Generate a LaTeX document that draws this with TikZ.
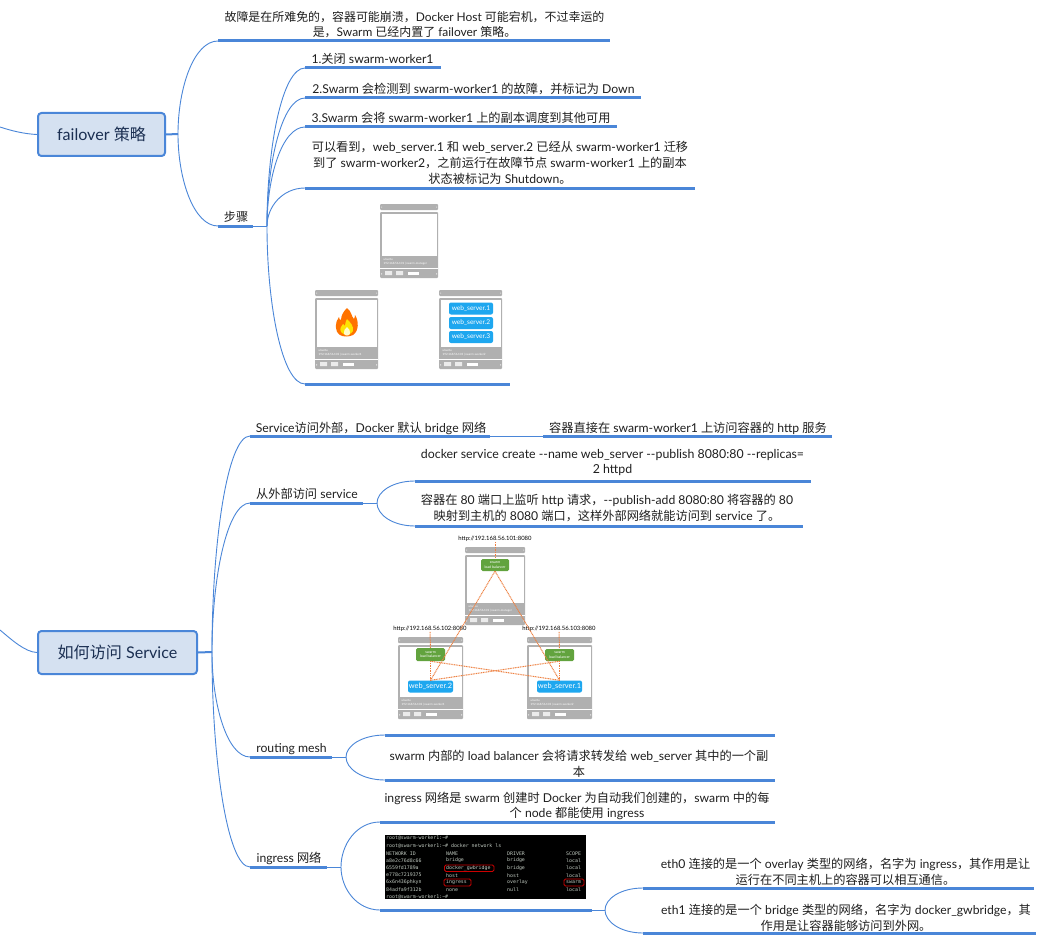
\documentclass[tikz,border=0pt]{standalone}
\usepackage{fontspec}
\setmainfont{Lato}
\newfontfamily\cjk{Noto Sans CJK SC}
\newfontfamily\termfont{DejaVu Sans Mono}
\newcommand\zh[1]{{\cjk #1}}
\usetikzlibrary{calc}
\definecolor{mblue}{HTML}{4A86D8}
\definecolor{mfill}{HTML}{D5E1F1}
\definecolor{navy}{HTML}{1B2F52}
\definecolor{wgray}{HTML}{B0B0B0}
\definecolor{sblue}{HTML}{1EA7EF}
\definecolor{lbgreen}{HTML}{62A33E}
\definecolor{dotor}{HTML}{EE8040}
\definecolor{term}{HTML}{BFC8BF}
\tikzset{
  conn/.style={draw=mblue,line width=0.9pt},
  bar/.style={draw=mblue,line width=3pt},
  stub/.style={draw=mblue,line width=2pt},
  topic/.style={draw=mblue,fill=mfill,line width=2pt,rounded corners=3.5pt,text=navy,font=\fontsize{16.1}{20}\selectfont,inner sep=0pt,anchor=center},
  lab/.style={text=black!88,font=\fontsize{12.2}{15.8}\selectfont,align=center,inner sep=0pt,anchor=center},
  btn/.style={fill=sblue,rounded corners=2pt,text=white,inner sep=0pt,anchor=center},
  lb/.style={fill=lbgreen,rounded corners=1.5pt,text=white,font=\fontsize{3.6}{4.4}\selectfont,align=center,inner sep=0pt,anchor=center},
  url/.style={text=black,font=\fontsize{5.9}{7}\selectfont,inner sep=0pt,anchor=center},
  tiny/.style={text=white,font=\fontsize{2.9}{4}\selectfont,align=left,anchor=west,inner sep=0pt},
  dots/.style={draw=dotor,line width=1pt,dash pattern=on 1pt off 0.7pt},
  tt/.style={text=term,font=\termfont\fontsize{4.9}{5}\selectfont,anchor=west,inner sep=0pt},
  redbox/.style={draw=red!80!black,line width=0.9pt,rounded corners=1.5pt},
}
% branch curve: leaves #1 vertically, reaches #2 horizontally
\newcommand\branch[2]{\draw[conn] (#1) .. controls ($(#1)!0.5!(#1|-#2)$) and ($(#1|-#2)!0.4!(#2)$) .. (#2);}
% mini window: x, y, w, h, name, ip text
\newcommand\miniwin[6]{%
  \begin{scope}[shift={(#1,#2)}]
    \fill[wgray,rounded corners=1pt] (0,0) rectangle (#3,6);
    \fill[wgray,rounded corners=1pt] (0,8) rectangle (#3,#4);
    \fill[white] (1.5,9.5) rectangle (#3-1.5,#4-22);
    \fill[white] (0,#4-9.7) rectangle (#3,#4-9);
    \fill[white!85!black] (1,2.5) rectangle (2,3.5) (#3-2,2.5) rectangle (#3-1,3.5);
    \fill[white!85!black] (1,#4-5) rectangle (2,#4-3.5) (#3-2,#4-5) rectangle (#3-1,#4-3.5);
    \fill[white!75!wgray] (5,#4-7) rectangle (12,#4-3) (16,#4-7) rectangle (23,#4-3);
    \fill[white] (28,#4-6.5) rectangle (39,#4-3);
    \node[tiny] (#5) at (3.5,#4-16) {ubuntu\\#6};
  \end{scope}}
\begin{document}
\begin{tikzpicture}[x=1pt,y=-1pt]
\useasboundingbox (0,0) rectangle (1055,947);
\fill[white] (0,0) rectangle (1055,947);

% ---------- failover ----------
\coordinate (f0) at (0,127);
\coordinate (fs) at (178,134);
\coordinate (t1a) at (218,41);   \coordinate (t1b) at (610,41);
\coordinate (t2a) at (218,226);  \coordinate (t2c) at (253,226); \coordinate (t2b) at (267,226);
\coordinate (s1a) at (305,68);   \coordinate (s1b) at (441,68);
\coordinate (s2a) at (305,98);   \coordinate (s2b) at (641,98);
\coordinate (s3a) at (305,127);  \coordinate (s3b) at (617,127);
\coordinate (s4a) at (305,188);  \coordinate (s4b) at (695,188);
\coordinate (s5a) at (305,384);  \coordinate (s5b) at (510,384);

\node[topic,minimum width=127pt,minimum height=43pt] (failover) at (101.5,134.5) {failover \zh{策略}};
\draw[conn] (f0) .. controls (12,131) and (25,134) .. (failover.west);
\draw[stub] (failover.east) -- (fs);
\branch{fs}{t1a}
\branch{fs}{t2a}
\draw[conn] (t2c) -- (t2b);
\foreach \e in {s1a,s2a,s3a,s4a,s5a}{\branch{t2b}{\e}}
\foreach \a/\b in {t1a/t1b,t2a/t2c,s1a/s1b,s2a/s2b,s3a/s3b,s4a/s4b,s5a/s5b}{\draw[bar] (\a) -- (\b);}

\node[lab,font=\fontsize{11.95}{15.8}\selectfont] (n1) at (414.5,24.5) {\zh{故障是在所难免的，容器可能崩溃，}Docker Host \zh{可能宕机，不过幸运的}\\\zh{是，}Swarm \zh{已经内置了} failover \zh{策略。}};
\node[lab] (n2) at (236,217) {\zh{步骤}};
\node[lab] (n3) at (372.5,59) {1.\zh{关闭} swarm-worker1};
\node[lab] (n4) at (473.5,89) {2.Swarm \zh{会检测到} swarm-worker1 \zh{的故障，并标记为} Down};
\node[lab] (n5) at (461,118) {3.Swarm \zh{会将} swarm-worker1 \zh{上的副本调度到其他可用}};
\node[lab] (n6) at (500,163) {\zh{可以看到，}web\_server.1 \zh{和} web\_server.2 \zh{已经从} swarm-worker1 \zh{迁移}\\\zh{到了} swarm-worker2\zh{，之前运行在故障节点} swarm-worker1 \zh{上的副本}\\\zh{状态被标记为} Shutdown\zh{。}};

% mini cluster 1
\miniwin{380}{204}{58}{74}{w1}{192.168.56.101 | swarm-manager}
\miniwin{315}{290}{63}{79}{w2}{192.168.56.102 | swarm-worker1}
\miniwin{439}{290}{63}{79}{w3}{192.168.56.103 | swarm-worker2}
\fill[orange!90!red] (347,308) .. controls (352,312) and (351,316) .. (354,319) .. controls (355,317) and (355,316) .. (355,315) .. controls (359,321) and (359,331) .. (353,335) .. controls (349,337) and (343,337) .. (340,335) .. controls (334,331) and (335,322) .. (339,317) .. controls (339,319) and (340,320) .. (341,320) .. controls (341,315) and (344,311) .. (347,308) -- cycle;
\fill[yellow!85!orange] (347,319) .. controls (350,322) and (354,326) .. (353,331) .. controls (352,335) and (343,336) .. (341,332) .. controls (339,328) and (342,326) .. (343,324) .. controls (344,325) and (345,326) .. (345,326) .. controls (345,323) and (346,321) .. (347,319) -- cycle;
\fill[white!80!yellow] (347,327) .. controls (349,329) and (351,331) .. (350,334) .. controls (349,336) and (345,336) .. (344,334) .. controls (343,331) and (345,329) .. (347,327) -- cycle;
\node[btn,minimum width=44pt,minimum height=12pt,font=\fontsize{6.6}{8}\selectfont] (b1) at (471,308.5) {web\_server.1};
\node[btn,minimum width=44pt,minimum height=12pt,font=\fontsize{6.6}{8}\selectfont] (b2) at (471,323) {web\_server.2};
\node[btn,minimum width=44pt,minimum height=12pt,font=\fontsize{6.6}{8}\selectfont] (b3) at (471,337) {web\_server.3};

% ---------- service ----------
\coordinate (g0) at (0,630);
\coordinate (gs) at (212,652);
\coordinate (a1) at (250,436);  \coordinate (a1b) at (490,436);
\coordinate (a1c) at (543,436); \coordinate (a1d) at (832,436);
\coordinate (a2) at (250,503);  \coordinate (a2c) at (363,503); \coordinate (a2b) at (377,503);
\coordinate (a3) at (250,757);  \coordinate (a3c) at (332,757); \coordinate (a3b) at (346,757);
\coordinate (a4) at (250,867);  \coordinate (a4c) at (327,867); \coordinate (a4b) at (341,867);
\coordinate (c1) at (415,481);  \coordinate (c1b) at (811,481);
\coordinate (c2) at (415,526);  \coordinate (c2b) at (803,526);
\coordinate (d1) at (385,735);  \coordinate (d1b) at (775,735);
\coordinate (d2) at (385,780);  \coordinate (d2b) at (775,780);
\coordinate (e1) at (380,822);  \coordinate (e1b) at (775,822);
\coordinate (e2) at (380,910);  \coordinate (e2c) at (592,910); \coordinate (e2b) at (605,910);
\coordinate (h1) at (643,888);  \coordinate (h1b) at (1034,888);
\coordinate (h2) at (643,933);  \coordinate (h2b) at (1036,933);

\node[topic,minimum width=159pt,minimum height=43pt] (svc) at (117.5,652.5) {\zh{如何访问} Service};
\draw[conn] (g0) .. controls (12,640) and (25,652) .. (svc.west);
\draw[stub] (svc.east) -- (gs);
\foreach \e in {a1,a2,a3,a4}{\branch{gs}{\e}}
\draw[conn] (a1b) -- (a1c);
\draw[conn] (a2c) -- (a2b);
\draw[conn] (a3c) -- (a3b);
\draw[conn] (a4c) -- (a4b);
\draw[conn] (e2c) -- (e2b);
\foreach \e in {c1,c2}{\branch{a2b}{\e}}
\foreach \e in {d1,d2}{\branch{a3b}{\e}}
\foreach \e in {e1,e2}{\branch{a4b}{\e}}
\foreach \e in {h1,h2}{\branch{e2b}{\e}}
\foreach \a/\b in {a1/a1b,a1c/a1d,a2/a2c,a3/a3c,a4/a4c,c1/c1b,c2/c2b,d1/d1b,d2/d2b,e1/e1b,e2/e2c,h1/h1b,h2/h2b}{\draw[bar] (\a) -- (\b);}

\node[lab] (m1) at (371,428) {Service\zh{访问外部，}Docker \zh{默认} bridge \zh{网络}};
\node[lab] (m2) at (688,428) {\zh{容器直接在} swarm-worker1 \zh{上访问容器的} http \zh{服务}};
\node[lab] (m3) at (307,494) {\zh{从外部访问} service};
\node[lab,font=\fontsize{12.35}{15.8}\selectfont] (m4) at (612.5,462.5) {docker service create -{}-name web\_server -{}-publish 8080:80 -{}-replicas=\\2 httpd};
\node[lab] (m5) at (607,508) {\zh{容器在} 80 \zh{端口上监听} http \zh{请求，}-{}-publish-add 8080:80 \zh{将容器的} 80\\\zh{映射到主机的} 8080 \zh{端口，这样外部网络就能访问到} service \zh{了。}};
\node[lab] (m6) at (291.5,749) {routing mesh};
\node[lab] (m7) at (579,763.5) {swarm \zh{内部的} load balancer \zh{会将请求转发给} web\_server \zh{其中的一个副}\\\zh{本}};
\node[lab] (m8) at (289,858) {ingress \zh{网络}};
\node[lab] (m9) at (577,806) {ingress \zh{网络是} swarm \zh{创建时} Docker \zh{为自动我们创建的，}swarm \zh{中的每}\\\zh{个} node \zh{都能使用} ingress};
\node[lab] (m10) at (845.5,871.5) {eth0 \zh{连接的是一个} overlay \zh{类型的网络，名字为} ingress\zh{，其作用是让}\\\zh{运行在不同主机上的容器可以相互通信。}};
\node[lab] (m11) at (846,917.5) {eth1 \zh{连接的是一个} bridge \zh{类型的网络，名字为} docker\_gwbridge\zh{，其}\\\zh{作用是让容器能够访问到外网。}};

% mini cluster 2
\miniwin{465}{547}{60}{78}{w4}{192.168.56.101 | swarm-manager}
\miniwin{398}{637}{65}{82}{w5}{192.168.56.102 | swarm-worker1}
\miniwin{527}{637}{65}{82}{w6}{192.168.56.103 | swarm-worker2}
\node[lb,minimum width=28pt,minimum height=12pt] (l1) at (495,565) {swarm\\load balancer};
\node[lb,minimum width=29pt,minimum height=13pt] (l2) at (430.5,654.5) {swarm\\load balancer};
\node[lb,minimum width=29pt,minimum height=12pt] (l3) at (559.5,655) {swarm\\load balancer};
\node[btn,minimum width=45pt,minimum height=12pt,font=\fontsize{7.4}{9}\selectfont] (w2b) at (430.5,686.5) {web\_server.2};
\node[btn,minimum width=45pt,minimum height=12pt,font=\fontsize{7.4}{9}\selectfont] (w1b) at (559.5,686.5) {web\_server.1};
\node[url] (u1) at (495,539) {http://192.168.56.101:8080};
\node[url] (u2) at (430,629) {http://192.168.56.102:8080};
\node[url] (u3) at (559,629) {http://192.168.56.103:8080};
\draw[dots] (u1.south) -- (l1.north);
\draw[dots] (u2.south) -- (l2.north);
\draw[dots] (u3.south) -- (l3.north);
\draw[dots] (l1.south) -- (w2b.north);
\draw[dots] (l1.south) -- (w1b.north);
\draw[dots] (l2.south) -- (w2b.north);
\draw[dots] (l2.south) -- (w1b.north);
\draw[dots] (l3.south) -- (w1b.north);
\draw[dots] (l3.south) -- (w2b.north);

% terminal
\fill[black] (385,835) rectangle (586,899);
\node[tt] (r1) at (386,838.5) {root@swarm-worker1:\textasciitilde\#};
\node[tt] (r2) at (386,846) {root@swarm-worker1:\textasciitilde\# docker network ls};
\foreach \y/\i/\n/\d/\s in {853.3/NETWORK ID/NAME/DRIVER/SCOPE,860.6/a8e2c76d8c66/bridge/bridge/local,868/6559fd1789a/docker\_gwbridge/bridge/local,875.2/e778c7219375/host/host/local,882.4/6x6n436phkyn/ingress/overlay/swarm,889.7/84adfa9f312b/none/null/local}{
  \node[tt] at (386,\y) {\i};
  \node[tt] at (446,\y) {\n};
  \node[tt] at (507,\y) {\d};
  \node[tt] at (566,\y) {\s};
}
\node[tt] (r3) at (386,897) {root@swarm-worker1:\textasciitilde\#};
\draw[redbox] (444.5,865) rectangle (494,871.5);
\draw[redbox] (444,879) rectangle (471,886);
\draw[redbox] (564,879) rectangle (584,886);
\end{tikzpicture}
\end{document}
